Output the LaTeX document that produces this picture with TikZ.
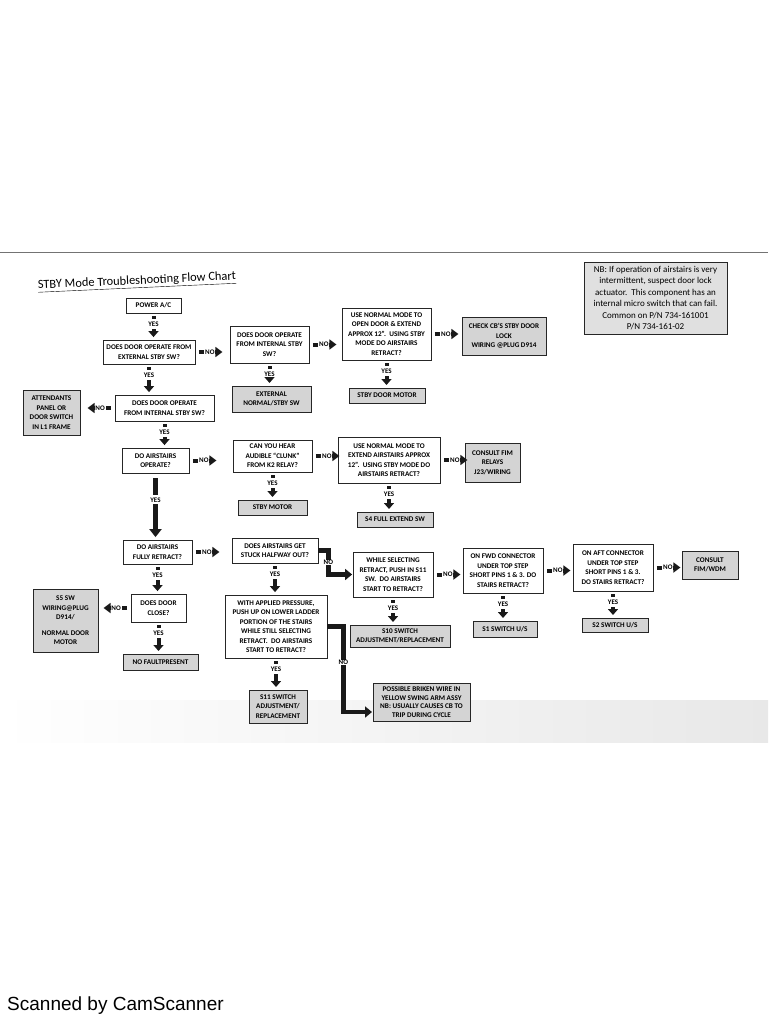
\documentclass[tikz,border=0pt]{standalone}
\usepackage{fontspec}
\usetikzlibrary{arrows.meta,calc}
\newfontfamily\cf{Carlito}
\newfontfamily\lsans{Liberation Sans}
\newcommand\boxfont{\cf\bfseries\fontsize{7.2}{9.5}\selectfont}
\newcommand\tightfont{\cf\bfseries\fontsize{7.2}{8.6}\selectfont}
\newcommand\lblfont{\cf\bfseries\fontsize{7}{8}\selectfont}
\newcommand\nbfont{\cf\fontsize{9}{11.5}\selectfont}
\tikzset{
 box/.style={draw=black!85, line width=0.8pt, fill=white, inner sep=0pt, align=center, font=\boxfont},
 gbox/.style={box, fill=black!17, line width=1pt},
 wh/.style 2 args={minimum width=#1pt, minimum height=#2pt},
 conn/.style={line width=4pt, draw=black!90},
 vyes/.style={conn, -{Triangle[width=10pt,length=6pt]}, shorten <=3pt, shorten >=2.5pt, dash pattern=on 3pt off 10pt on 300pt},
 hno/.style={conn, -{Triangle[width=10pt,length=7pt]}, shorten <=3.5pt, dash pattern=on 5pt off 11.5pt on 300pt},
 elb/.style={line width=4.5pt, draw=black!90, -{Triangle[width=11pt,length=7pt]}, shorten >=0.5pt},
 lbl/.style={font=\lblfont, inner sep=0.3pt},
}
\newcommand\yesarrow[2]{\draw[vyes] (#1.south) -- (#1.south |- #2.north) node[lbl, at start, yshift=-11pt]{YES};}
\newcommand\noright[2]{\draw[hno] (#1.east) -- ($(#1.east)!27pt!(#1.east -| #2.west)$) node[lbl, at start, xshift=14.5pt]{NO};}
\newcommand\noleft[2]{\draw[hno] (#1.west) -- ($(#1.west)!27pt!(#1.west -| #2.east)$) node[lbl, at start, xshift=-14.5pt]{NO};}
\begin{document}
\begin{tikzpicture}[x=1pt, y=-1pt]
\useasboundingbox (0,0) rectangle (768,1024);
\fill[white] (0,0) rectangle (768,1024);
\shade[left color=white, right color=black!9] (0,700) rectangle (768,742);
\draw[black!55, line width=0.8pt] (0,252) -- (768,252);

\node[font=\cf\fontsize{12.4}{14}\selectfont, rotate=2.6, inner sep=0pt] (title) at (137,282) {\underline{STBY Mode Troubleshooting Flow Chart}};

\node[gbox, wh={143}{72}, font=\nbfont, fill=black!12] (nb) at (655.5,298) {NB: If operation of airstairs is very\\intermittent, suspect door lock\\actuator.\ \ This component has an\\internal micro switch that can fail.\\Common on P/N 734-161001\\P/N 734-161-02};

\node[box, wh={55}{15}] (power) at (153.5,305.5) {POWER A/C};
\node[box, wh={92}{24}] (ext) at (149,352) {DOES DOOR OPERATE FROM\\EXTERNAL STBY SW?};
\node[box, wh={79}{37}] (int2) at (269.5,344.5) {DOES DOOR OPERATE\\FROM INTERNAL STBY\\SW?};
\node[gbox, wh={79}{26}] (extsw) at (271.5,399) {EXTERNAL\\NORMAL/STBY SW};
\node[box, wh={89}{52}] (open) at (386.5,334) {USE NORMAL MODE TO\\OPEN DOOR \& EXTEND\\APPROX 12”.\ \ USING STBY\\MODE DO AIRSTAIRS\\RETRACT?};
\node[gbox, wh={76}{15}] (doormot) at (387,395.5) {STBY DOOR MOTOR};
\node[gbox, wh={84}{38}] (cb) at (504,336) {CHECK CB’S STBY DOOR\\LOCK\\WIRING @PLUG D914};
\node[box, wh={99}{26}] (int1) at (164.5,408) {DOES DOOR OPERATE\\FROM INTERNAL STBY SW?};
\node[gbox, wh={57}{45}] (att) at (51.5,412.5) {ATTENDANTS\\PANEL OR\\DOOR SWITCH\\IN L1 FRAME};
\node[box, wh={67}{25}] (oper) at (155.5,460.5) {DO AIRSTAIRS\\OPERATE?};
\node[box, wh={79}{32}] (clunk) at (272.5,456) {CAN YOU HEAR\\AUDIBLE “CLUNK”\\FROM K2 RELAY?};
\node[gbox, wh={69}{15}] (stbymot) at (272.5,507.5) {STBY MOTOR};
\node[box, wh={102}{46}] (extend) at (389,460) {USE NORMAL MODE TO\\EXTEND AIRSTAIRS APPROX\\12”.\ \ USING STBY MODE DO\\AIRSTAIRS RETRACT?};
\node[gbox, wh={76}{15}] (s4) at (395,519.5) {S4 FULL EXTEND SW};
\node[gbox, wh={55}{39}] (fim) at (492.5,462.5) {CONSULT FIM\\RELAYS\\J23/WIRING};
\node[box, wh={69}{24}] (fully) at (157.5,552) {DO AIRSTAIRS\\FULLY RETRACT?};
\node[box, wh={55}{28}] (close) at (158.5,608) {DOES DOOR\\CLOSE?};
\node[gbox, wh={65}{63}] (s5) at (65.5,620.5) {S5 SW\\WIRING@PLUG\\D914/\\[6pt]NORMAL DOOR\\MOTOR};
\node[gbox, wh={75}{16}] (nofault) at (160.5,662) {NO FAULTPRESENT};
\node[box, wh={86}{25}] (stuck) at (275,550.5) {DOES AIRSTAIRS GET\\STUCK HALFWAY OUT?};
\node[box, wh={80}{45}] (sel) at (393,574.5) {WHILE SELECTING\\RETRACT, PUSH IN S11\\SW.\ \ DO AIRSTAIRS\\START TO RETRACT?};
\node[gbox, wh={100}{22}] (s10) at (400,636) {S10 SWITCH\\ADJUSTMENT/REPLACEMENT};
\node[box, wh={102}{63}] (press) at (276,626.5) {WITH APPLIED PRESSURE,\\PUSH UP ON LOWER LADDER\\PORTION OF THE STAIRS\\WHILE STILL SELECTING\\RETRACT.\ \ DO AIRSTAIRS\\START TO RETRACT?};
\node[gbox, wh={58}{33}] (s11) at (278,706.5) {S11 SWITCH\\ADJUSTMENT/\\REPLACEMENT};
\node[gbox, wh={97}{38}, font=\tightfont] (wire) at (421.5,702) {POSSIBLE BRIKEN WIRE IN\\YELLOW SWING ARM ASSY\\NB: USUALLY CAUSES CB TO\\TRIP DURING CYCLE};
\node[box, wh={80}{45}] (fwd) at (503,570.5) {ON FWD CONNECTOR\\UNDER TOP STEP\\SHORT PINS 1 \& 3. DO\\STAIRS RETRACT?};
\node[box, wh={80}{47}] (aft) at (613,567.5) {ON AFT CONNECTOR\\UNDER TOP STEP\\SHORT PINS 1 \& 3.\\DO STAIRS RETRACT?};
\node[gbox, wh={56}{28}] (wdm) at (710,565) {CONSULT\\FIM/WDM};
\node[gbox, wh={64}{16}] (s1) at (505,629) {S1 SWITCH U/S};
\node[gbox, wh={66}{14}] (s2) at (615,625) {S2 SWITCH U/S};

\yesarrow{power}{ext}
\noright{ext}{int2}
\yesarrow{int2}{extsw}
\noright{int2}{open}
\yesarrow{open}{doormot}
\noright{open}{cb}
\yesarrow{ext}{int1}
\noleft{int1}{att}
\yesarrow{int1}{oper}
\noright{oper}{clunk}
\yesarrow{clunk}{stbymot}
\noright{clunk}{extend}
\yesarrow{extend}{s4}
\noright{extend}{fim}
\draw[vyes, line width=5pt, shorten <=5pt, dash pattern=on 17pt off 9pt on 300pt, -{Triangle[width=12pt,length=8pt]}] (oper.south) -- (oper.south |- fully.north) node[lbl, at start, yshift=-26.5pt]{YES};
\noright{fully}{stuck}
\yesarrow{fully}{close}
\noleft{close}{s5}
\yesarrow{close}{nofault}
\yesarrow{stuck}{press}
\yesarrow{sel}{s10}
\noright{sel}{fwd}
\yesarrow{press}{s11}
\yesarrow{fwd}{s1}
\noright{fwd}{aft}
\yesarrow{aft}{s2}
\noright{aft}{wdm}
\draw[elb] (stuck.east) -- ++(10,0) |- node[lbl, fill=white, pos=0.25]{NO} (sel.west);
\draw[elb] (press.east) -- ++(16,0) |- node[lbl, fill=white, pos=0.21]{NO} ([yshift=-10pt]wire.west);

\node[font=\lsans\fontsize{19}{22}\selectfont, anchor=base west, inner sep=0pt] (scan) at (7,1010) {Scanned by CamScanner};
\end{tikzpicture}
\end{document}
